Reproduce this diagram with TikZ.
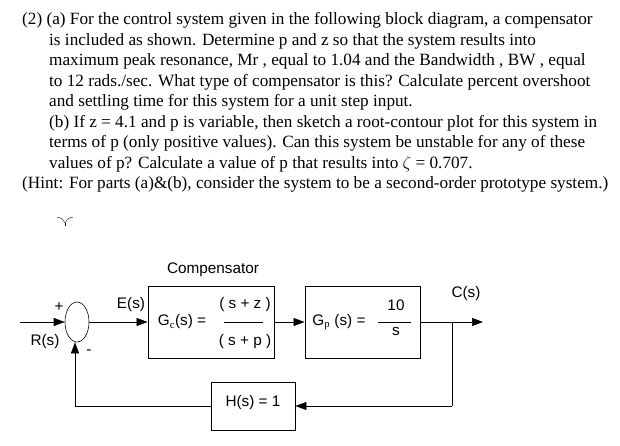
\documentclass[tikz,border=0pt]{standalone}
\usepackage{fontspec}
\setmainfont{Liberation Serif}
\newfontfamily\arialf{Liberation Sans}
\usetikzlibrary{arrows.meta,shapes.geometric}
\begin{document}
\begin{tikzpicture}[x=1pt,y=-1pt,
  txt/.style={anchor=base west,inner sep=0,font=\fontsize{17.2}{19}\selectfont},
  lab/.style={inner sep=0,font=\arialf\fontsize{15.3}{17}\selectfont},
  blk/.style={draw,line width=0.8pt},
  arr/.style={-{Triangle[length=11pt,width=8pt]},line width=0.6pt},
  ln/.style={line width=0.6pt}]
\useasboundingbox (0,0) rectangle (620,446);
\node[txt] (l1) at (22,25) {(2) (a) For the control system given in the following block diagram, a compensator};
\node[txt] (l2) at (49,45.5) {is included as shown. Determine p and z so that the system results into};
\node[txt] (l3) at (49,66) {maximum peak resonance, Mr , equal to 1.04 and the Bandwidth , BW , equal};
\node[txt] (l4) at (49,86.5) {to 12 rads./sec. What type of compensator is this? Calculate percent overshoot};
\node[txt] (l5) at (49,107) {and settling time for this system for a unit step input.};
\node[txt] (l6) at (49,127.5) {(b) If z = 4.1 and p is variable, then sketch a root-contour plot for this system in};
\node[txt] (l7) at (49,148) {terms of p (only positive values). Can this system be unstable for any of these};
\node[txt] (l8) at (49,168.5) {values of p? Calculate a value of p that results into $\zeta$ = 0.707.};
\node[txt] (l9) at (22,189) {(Hint: For parts (a)\&(b), consider the system to be a second-order prototype system.)};
\draw[line width=0.4pt] (57,217) .. controls (62,218) and (64,220) .. (65,223) .. controls (66,220) and (68,218) .. (73,217);
\draw[line width=0.4pt] (65,223) -- (65,226);
% diagram
\coordinate (rin) at (20,322);
\node[draw,ellipse,minimum width=24pt,minimum height=40pt,inner sep=0,line width=0.6pt] (sum) at (77,322) {};
\node[blk,minimum width=126pt,minimum height=72pt,inner sep=0] (gc) at (211,322) {};
\node[blk,minimum width=115pt,minimum height=72pt,inner sep=0] (gp) at (362.5,322) {};
\node[blk,minimum width=84pt,minimum height=48pt,inner sep=0] (h) at (253,406) {};
\coordinate (out) at (483,322);
\coordinate (br) at (452,322);
\coordinate (bb) at (452,406);
\coordinate (fb) at (75,406);
\draw[arr] (rin) -- (sum.west);
\draw[arr] (sum.east) -- (gc.west);
\draw[arr] (gc.east) -- (gp.west);
\draw[arr] (gp.east) -- (out);
\draw[ln] (br) -- (bb);
\draw[arr] (bb) -- (h.east);
\draw[ln] (h.west) -- (fb);
\draw[arr] (fb) -- (sum.south -| fb);
\node[lab] (plus) at (59,307) {+};
\node[lab] (minus) at (89,352) {-};
\node[lab] (rs) at (45,342) {R(s)};
\node[lab] (es) at (131,305) {E(s)};
\node[lab] (cs) at (466,294) {C(s)};
\node[lab] (comp) at (213,270) {Compensator};
\node[lab] (gcl) at (182,322) {G$_{\mathrm{c}}$(s) =};
\node[lab] (gcn) at (245,305) {( s + z )};
\draw[line width=0.5pt] (224,322) -- (263,322);
\node[lab] (gcd) at (245,342) {( s + p )};
\node[lab] (gpl) at (339,322) {G$_{\mathrm{p}}$ (s) =};
\node[lab] (gpn) at (396,305) {10};
\draw[line width=0.5pt] (378,322) -- (411,322);
\node[lab] (gpd) at (396,331) {s};
\node[lab] (hl) at (253,403) {H(s) = 1};
\end{tikzpicture}
\end{document}
